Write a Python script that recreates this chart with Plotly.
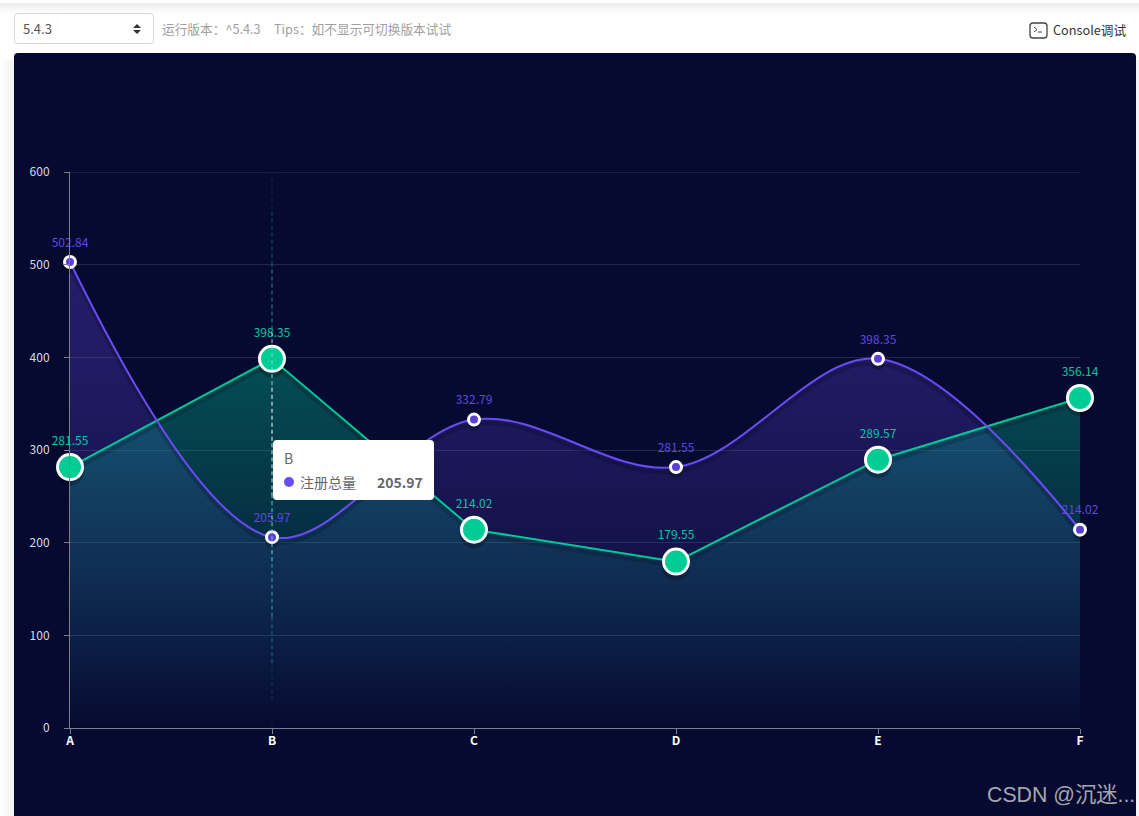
# line chart with area gradients, drawn on a dark card like the echarts demo page
import plotly.graph_objects as go

W = 1139
H = 816

categories = ["A", "B", "C", "D", "E", "F"]
purple_values = [502.84, 205.97, 332.79, 281.55, 398.35, 214.02]
green_values = [281.55, 398.35, 214.02, 179.55, 289.57, 356.14]
y_ticks = [0, 100, 200, 300, 400, 500, 600]
hover_index = 1

CARD = "#060a30"
PURPLE = "#6a4cf5"
GREEN = "#00c896"
FONT = "Noto Sans CJK SC"


# page pixels to paper fractions (margins are zero so paper is the whole page)
def px(x):
    return x / W


def py(y):
    return 1 - y / H


def rounded(x0, y0, x1, y1, r):
    return (
        f"M {px(x0 + r)} {py(y0)} L {px(x1 - r)} {py(y0)} Q {px(x1)} {py(y0)} {px(x1)} {py(y0 + r)} "
        f"L {px(x1)} {py(y1 - r)} Q {px(x1)} {py(y1)} {px(x1 - r)} {py(y1)} "
        f"L {px(x0 + r)} {py(y1)} Q {px(x0)} {py(y1)} {px(x0)} {py(y1 - r)} "
        f"L {px(x0)} {py(y0 + r)} Q {px(x0)} {py(y0)} {px(x0 + r)} {py(y0)} Z"
    )


def page_rect(x0, y0, x1, y1, color, layer="below"):
    return dict(type="rect", xref="paper", yref="paper", x0=px(x0), x1=px(x1), y0=py(y0), y1=py(y1),
                fillcolor=color, line_width=0, layer=layer)


shapes = []
# page shadow at the top and the sides
top_shade = ["#ffffff", "#ffffff", "#ffffff", "#ececec", "#eeeeee", "#f0f0f0", "#f2f2f2", "#f4f4f4",
             "#f6f6f6", "#f8f8f8", "#fafafa", "#fbfbfb", "#fcfcfc", "#fdfdfd", "#fefefe"]
for i, c in enumerate(top_shade):
    shapes.append(page_rect(0, i, W, i + 1, c))
left_shade = ["#ffffff", "#fefefe", "#fdfdfd", "#fcfcfc", "#fbfbfb", "#fafafa", "#f9f9f9",
              "#f8f8f8", "#f7f7f7", "#f6f6f6", "#f5f5f5", "#f4f4f4", "#f3f3f3", "#f2f2f2"]
for i, c in enumerate(left_shade):
    shapes.append(page_rect(i, 60, i + 1, H, c))
shapes.append(page_rect(1136, 60, W, H, "#f4f4f4"))

# dark card
shapes.append(dict(type="path", xref="paper", yref="paper", path=rounded(14, 53, 1136, 830, 4),
                   fillcolor=CARD, line_width=0, layer="below"))

# version select
shapes.append(dict(type="path", xref="paper", yref="paper", path=rounded(14.5, 13.5, 153.5, 43.5, 3),
                   fillcolor="#ffffff", line=dict(color="#d3d6de", width=1), layer="below"))
shapes.append(dict(type="path", xref="paper", yref="paper",
                   path=f"M {px(133)} {py(28)} L {px(141)} {py(28)} L {px(137)} {py(24)} Z "
                        f"M {px(133)} {py(30)} L {px(141)} {py(30)} L {px(137)} {py(34)} Z",
                   fillcolor="#333333", line_width=0, layer="below"))

# console icon
shapes.append(dict(type="path", xref="paper", yref="paper", path=rounded(1030, 23, 1047, 38, 3),
                   fillcolor="#ffffff", line=dict(color="#444444", width=1.3), layer="below"))
shapes.append(dict(type="path", xref="paper", yref="paper",
                   path=f"M {px(1034)} {py(27)} L {px(1037)} {py(29.5)} L {px(1034)} {py(32)} "
                        f"M {px(1038)} {py(32)} L {px(1042)} {py(32)}",
                   line=dict(color="#444444", width=1), layer="below"))

# top gridline, plotly drops the one sitting on the axis edge
shapes.append(dict(type="line", xref="x", yref="y", x0=categories[0], x1=categories[-1],
                   y0=y_ticks[-1], y1=y_ticks[-1], line=dict(color="rgba(255,255,255,0.17)", width=1),
                   layer="below"))

# hover crosshair, fades out towards both ends of the axis
cross_steps = [0, 30, 70, 120, 180, 250, 310, 370, 430, 500, 560, 600]
cross_colors = ["#071a3c", "#0c3a58", "#1a6a80", "#3a9ca8", "#6fcfd0", "#c0e8e8", "#ffffff",
                "#8fd8d8", "#2f8c98", "#154e68", "#0a2a48"]
for i, c in enumerate(cross_colors):
    shapes.append(dict(type="line", xref="x", yref="y", x0=categories[hover_index], x1=categories[hover_index],
                       y0=cross_steps[i], y1=cross_steps[i + 1], line=dict(color=c, width=1, dash="4px,3px"),
                       layer="above"))

# tooltip box
shapes.append(dict(type="path", xref="paper", yref="paper", path=rounded(273, 440, 434, 500, 4),
                   fillcolor="#ffffff", line_width=0, layer="above"))
shapes.append(dict(type="circle", xref="paper", yref="paper", x0=px(284), x1=px(294), y0=py(477), y1=py(487),
                   fillcolor=PURPLE, line_width=0, layer="above"))


# annotations sit about 2px inside their anchor because of the padding
def page_text(x, y, text, size, color, anchor="left", weight=None, family=FONT):
    x = x - 2 if anchor == "left" else x + 2
    return dict(xref="paper", yref="paper", x=px(x), y=py(y), text=text, showarrow=False, xanchor=anchor,
                yanchor="middle", font=dict(size=size, color=color, family=family, weight=weight))


annotations = [
    page_text(23, 29, "5.4.3", 13, "#555555"),
    page_text(162, 29, "运行版本：^5.4.3", 12.7, "#a0a0a0"),
    page_text(274, 29, "Tips：如不显示可切换版本试试", 12.7, "#a0a0a0"),
    page_text(1053, 30, "Console调试", 12.7, "#333333"),
    page_text(284, 458, categories[hover_index], 14, "#666666"),
    page_text(300, 482, "注册总量", 14, "#666666"),
    page_text(423, 482, f"{purple_values[hover_index]}", 14, "#666666", anchor="right", weight="bold"),
    page_text(987, 795, "CSDN @沉迷...", 21.3, "#a4a6b0", family="Liberation Sans, Noto Sans CJK SC"),
]

fig = go.Figure()

# area fills first so they never cover a line or a marker of the other series
fig.add_trace(go.Scatter(
    x=categories, y=purple_values, mode="lines", hoverinfo="skip",
    line=dict(color="rgba(0,0,0,0)", width=0, shape="spline", smoothing=1),
    fill="tozeroy",
    fillgradient=dict(type="vertical", colorscale=[[0, "rgba(106,76,245,0)"], [0.7, "rgba(106,76,245,0.24)"],
                                                   [1, "rgba(106,76,245,0.3)"]]),
))
fig.add_trace(go.Scatter(
    x=categories, y=green_values, mode="lines", hoverinfo="skip",
    line=dict(color="rgba(0,0,0,0)", width=0),
    fill="tozeroy",
    fillgradient=dict(type="vertical", colorscale=[[0, "rgba(0,200,150,0)"], [1, "rgba(0,200,150,0.36)"]]),
))

# soft dark shadows under both lines
fig.add_trace(go.Scatter(
    x=categories, y=[v - 5 for v in green_values], mode="lines+markers", hoverinfo="skip",
    line=dict(color="rgba(0,0,0,0.16)", width=4),
    marker=dict(size=28, color="rgba(0,0,0,0.25)"), cliponaxis=False,
))
fig.add_trace(go.Scatter(
    x=categories, y=[v - 5 for v in purple_values], mode="lines+markers", hoverinfo="skip",
    line=dict(color="rgba(0,0,0,0.18)", width=4, shape="spline", smoothing=1),
    marker=dict(size=13, color="rgba(0,0,0,0.25)"), cliponaxis=False,
))

# the lines and markers
fig.add_trace(go.Scatter(
    x=categories, y=green_values, mode="lines+markers", name="green",
    line=dict(color=GREEN, width=2),
    marker=dict(size=25, color="#00cc96", line=dict(color="#ffffff", width=3)),
    cliponaxis=False,
))
fig.add_trace(go.Scatter(
    x=categories, y=purple_values, mode="lines+markers", name="注册总量",
    line=dict(color=PURPLE, width=2, shape="spline", smoothing=1),
    marker=dict(size=11, color="#5a3fd6", line=dict(color="#ffffff", width=3)),
    cliponaxis=False,
))

# value labels, invisible markers set how far they float above the points
fig.add_trace(go.Scatter(
    x=categories, y=green_values, mode="markers+text", hoverinfo="skip",
    marker=dict(size=29, color="rgba(0,0,0,0)"),
    text=[f"{v}" for v in green_values], textposition="top center",
    textfont=dict(size=12, color="#00c8a0", family=FONT), cliponaxis=False,
))
fig.add_trace(go.Scatter(
    x=categories, y=purple_values, mode="markers+text", hoverinfo="skip",
    marker=dict(size=18, color="rgba(0,0,0,0)"),
    text=[f"{v}" for v in purple_values], textposition="top center",
    textfont=dict(size=12, color="#5f47e6", family=FONT), cliponaxis=False,
))

fig.update_layout(
    width=W, height=H, margin=dict(l=0, r=0, t=0, b=0), autosize=False,
    paper_bgcolor="#ffffff", plot_bgcolor="rgba(0,0,0,0)",
    showlegend=False, shapes=shapes, annotations=annotations,
    font=dict(family=FONT),
)
fig.update_xaxes(
    domain=[px(70), px(1080)], type="category", categoryorder="array", categoryarray=categories,
    range=[0, 5], showgrid=False, zeroline=False, showline=True, linecolor="#7c7e8c", linewidth=1, automargin=False,
    ticks="outside", ticklen=5, tickcolor="#7c7e8c", ticklabelstandoff=-3,
    tickfont=dict(size=12, color="#ffffff", family=FONT, weight="bold"),
)
fig.update_yaxes(
    domain=[py(728), py(172)], range=[0, 600], tickvals=y_ticks, showgrid=True, automargin=False,
    gridcolor="rgba(255,255,255,0.12)", gridwidth=1, zeroline=False, showline=True, linecolor="#7c7e8c", linewidth=1,
    ticks="outside", ticklen=5, tickcolor="#7c7e8c", ticklabelstandoff=12,
    tickfont=dict(size=12, color="#d0dce8", family=FONT),
)

fig.write_html("out.html", config=dict(displayModeBar=False),
               post_script="document.body.style.margin='0';document.body.style.overflow='hidden';")
